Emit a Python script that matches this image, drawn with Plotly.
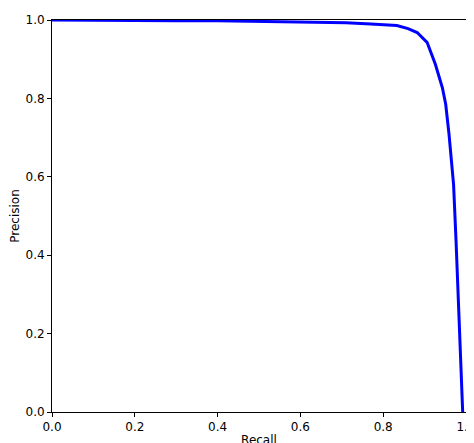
import plotly.graph_objects as go

recall = [0.0, 0.1, 0.2, 0.3, 0.4, 0.5, 0.6, 0.65, 0.71, 0.77, 0.833, 0.86, 0.882, 0.906, 0.926, 0.943, 0.951,
          0.959, 0.970, 0.976, 0.982, 0.987, 0.992]
precision = [1.0, 0.999, 0.999, 0.998, 0.998, 0.997, 0.996, 0.995, 0.993, 0.99, 0.986, 0.978, 0.968, 0.943, 0.887,
             0.827, 0.785, 0.708, 0.580, 0.436, 0.263, 0.093, 0.0]

fig = go.Figure(go.Scatter(x=recall, y=precision, mode="lines",
                           line=dict(color="#0000ff", width=3)))
ax = dict(range=[0, 1], dtick=0.2, tickformat=".1f", showgrid=False, zeroline=False,
          showline=True, linecolor="black", linewidth=1, mirror=True, automargin=False,
          ticks="outside", ticklen=4, tickcolor="black",
          tickfont=dict(family="DejaVu Sans", size=12, color="black"))
fig.update_layout(
    width=474, height=443, margin=dict(l=44, r=16, t=12, b=39),
    paper_bgcolor="white", plot_bgcolor="white", showlegend=False,
    xaxis=dict(ax, title=dict(text="Recall", standoff=2, font=dict(family="DejaVu Sans", size=12, color="black"))),
    yaxis=dict(ax, title=dict(text="Precision", standoff=4, font=dict(family="DejaVu Sans", size=12, color="black"))),
)
fig.write_html("out.html")
